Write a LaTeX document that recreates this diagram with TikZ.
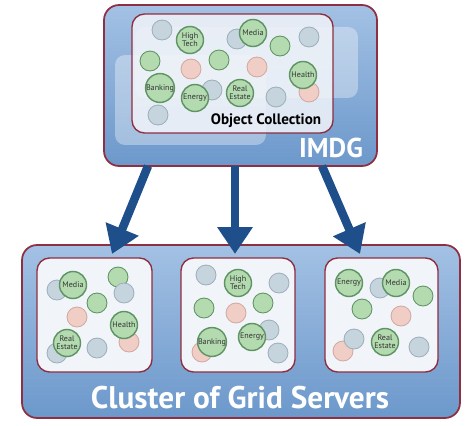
\documentclass[tikz,border=0pt]{standalone}
\usepackage{fontspec}
\setmainfont{PT Sans}
\usetikzlibrary{arrows.meta}
\definecolor{boxred}{HTML}{8E2F42}
\definecolor{gridtop}{HTML}{A3C1E4}
\definecolor{gridbot}{HTML}{6C98CB}
\definecolor{arrowblue}{HTML}{1F4F8B}
\definecolor{panel}{HTML}{F1F4F9}
\definecolor{dotgreen}{HTML}{B4DBB0}
\definecolor{dotgreenline}{HTML}{5E9463}
\definecolor{dotgray}{HTML}{C6D4DE}
\definecolor{dotgrayline}{HTML}{9EB0BD}
\definecolor{dotpink}{HTML}{F0CDC5}
\definecolor{dotpinkline}{HTML}{D2AAA2}
\tikzset{
  gridbox/.style={draw=boxred, line width=1pt, rounded corners=0.3cm, top color=gridtop, bottom color=gridbot},
  storebox/.style={draw=boxred, line width=0.8pt, rounded corners=0.25cm, fill=panel},
  ghost/.style={fill=white, fill opacity=0.35, rounded corners=0.2cm},
  dot/.style={circle, minimum size=0.4cm, inner sep=0pt, line width=0.5pt},
  green dot/.style={dot, fill=dotgreen, draw=dotgreenline},
  gray dot/.style={dot, fill=dotgray, draw=dotgrayline},
  pink dot/.style={dot, fill=dotpink, draw=dotpinkline},
  tag/.style={circle, minimum size=0.54cm, inner sep=0pt, line width=0.8pt, fill=dotgreen, draw=dotgreenline,
    align=center, font=\fontsize{4.6}{4.7}\selectfont, text=black!80},
  feed/.style={arrowblue, line width=0.17cm, -{Triangle[width=0.68cm,length=0.54cm]}}
}
\begin{document}
\begin{tikzpicture}[x=0.02cm, y=-0.02cm]
\useasboundingbox (0,0) rectangle (474,426);

% in-memory data grid
\node[gridbox, minimum width=5.46cm, minimum height=3.22cm] (imdg) at (240.5,85.5) {};
\node[ghost, minimum width=3.02cm, minimum height=1.8cm] (back1) at (190.5,100) {};
\node[ghost, minimum width=4.46cm, minimum height=1.42cm] (back2) at (246.5,62.5) {};
\node[storebox, fill opacity=0.85, minimum width=4.02cm, minimum height=2.38cm] (coll) at (232.5,73.5) {};
\node[text=white, font=\bfseries\fontsize{15.5}{15.5}\selectfont] (imdglabel) at (331,148) {IMDG};
\node[font=\bfseries\fontsize{8.6}{9}\selectfont] (colllabel) at (266,121) {Object Collection};

\foreach \x/\y [count=\i] in {162/30, 237/39, 309/37, 212/90, 276/97, 158/115}
  \node[gray dot] (cg\i) at (\x,\y) {};
\foreach \x/\y [count=\i] in {280/46, 150/61, 219/60}
  \node[green dot] (cn\i) at (\x,\y) {};
\foreach \x/\y [count=\i] in {191/69, 257/67, 309/92}
  \node[pink dot] (cp\i) at (\x,\y) {};
\node[tag] (chigh) at (190,40) {High\\Tech};
\node[tag] (cmedia) at (253,33) {Media};
\node[tag] (chealth) at (303,75) {Health};
\node[tag] (cbank) at (160,88) {Banking};
\node[tag] (cenergy) at (195,98) {Energy};
\node[tag] (creal) at (240,93) {Real\\Estate};

% cluster of servers
\node[gridbox, minimum width=8.76cm, minimum height=3.46cm] (cluster) at (241,331.5) {};
\node[storebox, minimum width=2.3cm, minimum height=2.28cm] (srv1) at (94.5,315) {};
\node[storebox, minimum width=2.28cm, minimum height=2.28cm] (srv2) at (238,315) {};
\node[storebox, minimum width=2.26cm, minimum height=2.28cm] (srv3) at (381.5,315) {};
\node[text=white, font=\bfseries\fontsize{17.8}{17.8}\selectfont] (clusterlabel) at (240,398) {Cluster of Grid Servers};

% server 1
\foreach \x/\y [count=\i] in {57/290, 57/353, 97/348}
  \node[gray dot] (ag\i) at (\x,\y) {};
\node[green dot] (an1) at (118,277) {};
\node[gray dot] (ag4) at (124,293) {};
\node[green dot] (an2) at (97,303) {};
\foreach \x/\y [count=\i] in {77/317, 129/342}
  \node[pink dot] (ap\i) at (\x,\y) {};
\node[tag] (amedia) at (73,285) {Media};
\node[tag] (ahealth) at (124,325) {Health};
\node[tag] (areal) at (67,343) {Real\\Estate};

% server 2
\foreach \x/\y [count=\i] in {206/275, 279/283, 269/330, 278/353}
  \node[gray dot] (bg\i) at (\x,\y) {};
\foreach \x/\y [count=\i] in {204/308, 263/303}
  \node[green dot] (bn\i) at (\x,\y) {};
\foreach \x/\y [count=\i] in {236/313, 202/352}
  \node[pink dot] (bp\i) at (\x,\y) {};
\node[tag] (bhigh) at (238,283) {High\\Tech};
\node[tag] (benergy) at (252,337) {Energy};
\node[tag] (bbank) at (212,342) {Banking};

% server 3
\foreach \x/\y [count=\i] in {380/288, 419/347}
  \node[gray dot] (dg\i) at (\x,\y) {};
\foreach \x/\y [count=\i] in {423/296, 362/309}
  \node[green dot] (dn\i) at (\x,\y) {};
\foreach \x/\y [count=\i] in {401/316, 343/351}
  \node[pink dot] (dp\i) at (\x,\y) {};
\node[gray dot] (dg3) at (354,339) {};
\node[tag] (denergy) at (349,283) {Energy};
\node[tag] (dmedia) at (396,283) {Media};
\node[tag] (dreal) at (385,342) {Real\\Estate};

% distribution
\coordinate (out1) at (148,166);
\coordinate (out2) at (235,166);
\coordinate (out3) at (322,166);
\coordinate (in1) at (112,254);
\coordinate (in2) at (235,254);
\coordinate (in3) at (360,254);
\draw[feed] (out1) -- (in1);
\draw[feed] (out2) -- (in2);
\draw[feed] (out3) -- (in3);
\end{tikzpicture}
\end{document}
